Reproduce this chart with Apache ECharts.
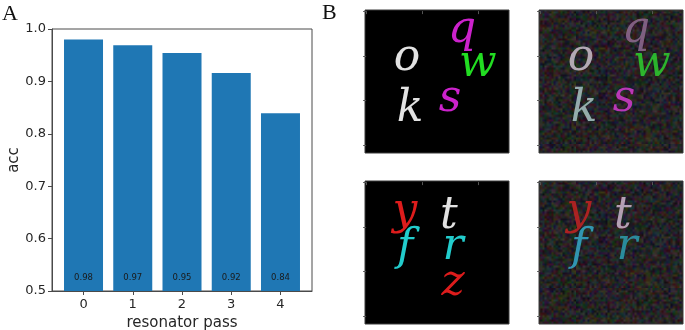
<!DOCTYPE html>
<html>
<head>
<meta charset="utf-8">
<script src="https://cdn.jsdelivr.net/npm/echarts@6/dist/echarts.min.js"></script>
<style>
  html, body { margin: 0; padding: 0; background: #fff; }
  #chart { width: 685px; height: 330px; }
</style>
</head>
<body>
<div id="chart"></div>
<script>
// --- panel A : accuracy per resonator pass --- //
const passes = [0, 1, 2, 3, 4];
const accValues = [0.98, 0.969, 0.954, 0.916, 0.839];
const yTicks = [0.5, 0.6, 0.7, 0.8, 0.9, 1.0];

// --- panel B : letters in the 64x64 images (glyph centre x, baseline y) --- //
const topLetters = ['o', 'k', 'q', 'w', 's'];
const topX = [18.2, 19.5, 42.6, 49.7, 37.3];
const topY = [27.1, 49.7, 14.5, 29.7, 45.3];
const topColors = ['#e2e2e2', '#e2e2e2', '#cc22cc', '#22dd22', '#cc22cc'];
const topReconColors = ['#cdbfcd', '#a9c4c4', '#8f6a92', '#2fcf2f', '#d43cd0'];

const botLetters = ['y', 't', 'f', 'r', 'z'];
const botX = [17.3, 36.8, 17.3, 38.6, 38.6];
const botY = [19.5, 21.3, 35.5, 35.1, 51.1];
const botColors = ['#dd1c1c', '#e2e2e2', '#22cccc', '#22cccc', '#dd1c1c'];
const botReconColors = ['#c42222', '#cdb6cd', '#35a9c9', '#2d9fb0', null];

const imgXTicks = [0, 25, 50];
const imgYTicks = [0, 20, 40, 60];

// texture for the noisy reconstructions (a background pattern, not data)
function noiseTexture() {
  const small = document.createElement('canvas');
  small.width = 64; small.height = 64;
  const sctx = small.getContext('2d');
  const img = sctx.createImageData(64, 64);
  let seed = 12345;
  const rnd = () => { seed = (seed * 1103515245 + 12345) % 2147483648; return seed / 2147483648; };
  for (let i = 0; i < 64 * 64; i++) {
    img.data[i * 4] = 10 + rnd() * 55;
    img.data[i * 4 + 1] = 10 + rnd() * 50;
    img.data[i * 4 + 2] = 12 + rnd() * 50;
    img.data[i * 4 + 3] = 255;
  }
  sctx.putImageData(img, 0, 0);
  const big = document.createElement('canvas');
  big.width = 144; big.height = 144;
  const bctx = big.getContext('2d');
  bctx.imageSmoothingEnabled = true;
  bctx.drawImage(small, 0, 0, 144, 144);
  return big;
}
const noise = noiseTexture();

const imgBoxes = [
  { left: 365, top: 10 },
  { left: 539, top: 10 },
  { left: 365, top: 181 },
  { left: 539, top: 181 }
];

const chart = echarts.init(document.getElementById('chart'));

const grids = [{ left: 52, top: 29, width: 260, height: 262, outerBoundsMode: 'none', show: true, borderColor: '#4a4a4a', borderWidth: 1, backgroundColor: '#fff' }];
const xAxes = [{
  type: 'value', gridIndex: 0, min: -0.64, max: 4.64,
  splitLine: { show: false },
  axisLine: { show: true, onZero: false, lineStyle: { color: '#4a4a4a' } },
  axisTick: { show: true, customValues: passes, length: 4, lineStyle: { color: '#4a4a4a' } },
  axisLabel: { customValues: passes, fontFamily: 'DejaVu Sans', fontSize: 13, color: '#262626', margin: 7 },
  name: 'resonator pass', nameLocation: 'middle', nameGap: 22,
  nameTextStyle: { fontFamily: 'DejaVu Sans', fontSize: 15, color: '#262626' }
}];
const yAxes = [{
  type: 'value', gridIndex: 0, min: 0.5, max: 1.0, interval: 0.1,
  splitLine: { show: false },
  axisLine: { show: true, onZero: false, lineStyle: { color: '#4a4a4a' } },
  axisTick: { show: true, length: 4, lineStyle: { color: '#4a4a4a' } },
  axisLabel: { fontFamily: 'DejaVu Sans', fontSize: 13, color: '#262626', margin: 6,
    formatter: v => v.toFixed(1), customValues: yTicks },
  name: 'acc', nameLocation: 'middle', nameGap: 28,
  nameTextStyle: { fontFamily: 'DejaVu Sans', fontSize: 15, color: '#262626' }
}];

const series = [{
  type: 'bar', xAxisIndex: 0, yAxisIndex: 0,
  data: passes.map((p, i) => [p, accValues[i]]),
  barWidth: 39,
  itemStyle: { color: '#1f77b4' },
  label: {
    show: true, position: 'insideBottom', distance: 9,
    fontFamily: 'DejaVu Sans', fontSize: 8.5, color: '#1a1a1a',
    formatter: p => p.value[1].toFixed(2)
  }
}];

function letterData(letters, xs, ys, colors) {
  const out = [];
  letters.forEach((ch, i) => {
    if (!colors[i]) return;
    out.push({ value: [xs[i], ys[i], ch], label: { color: colors[i] } });
  });
  return out;
}

const panels = [
  [topLetters, topX, topY, topColors, false],
  [topLetters, topX, topY, topReconColors, true],
  [botLetters, botX, botY, botColors, false],
  [botLetters, botX, botY, botReconColors, true]
];

panels.forEach((pn, k) => {
  const gi = k + 1;
  grids.push({
    left: imgBoxes[k].left, top: imgBoxes[k].top, width: 144, height: 143,
    outerBoundsMode: 'none',
    show: true, borderColor: '#3a3a3a', borderWidth: 1,
    backgroundColor: pn[4] ? { image: noise, repeat: 'repeat' } : '#000'
  });
  xAxes.push({
    type: 'value', gridIndex: gi, min: -0.5, max: 63.5,
    splitLine: { show: false },
    axisLine: { show: false },
    axisTick: { show: true, customValues: imgXTicks, length: 3, lineStyle: { color: '#555' } },
    axisLabel: { show: false }
  });
  yAxes.push({
    type: 'value', gridIndex: gi, min: -0.5, max: 63.5, inverse: true,
    splitLine: { show: false },
    axisLine: { show: false },
    axisTick: { show: true, customValues: imgYTicks, length: 3, lineStyle: { color: '#555' } },
    axisLabel: { show: false }
  });
  series.push({
    type: 'scatter', xAxisIndex: gi, yAxisIndex: gi,
    symbolSize: 0,
    silent: true,
    data: letterData(pn[0], pn[1], pn[2], pn[3]),
    label: {
      show: true, position: 'inside', offset: [0, -13],
      fontFamily: 'DejaVu Serif', fontStyle: 'italic', fontSize: 44,
      opacity: pn[4] ? 0.85 : 1,
      formatter: p => p.value[2]
    }
  });
});

chart.setOption({
  animation: false,
  backgroundColor: '#fff',
  grid: grids,
  xAxis: xAxes,
  yAxis: yAxes,
  series: series,
  graphic: [
    { type: 'text', left: 2, top: 3, style: { text: 'A', fontFamily: 'Liberation Serif', fontSize: 22, fill: '#111' } },
    { type: 'text', left: 322, top: 2, style: { text: 'B', fontFamily: 'Liberation Serif', fontSize: 22, fill: '#111' } }
  ]
});
</script>
</body>
</html>
